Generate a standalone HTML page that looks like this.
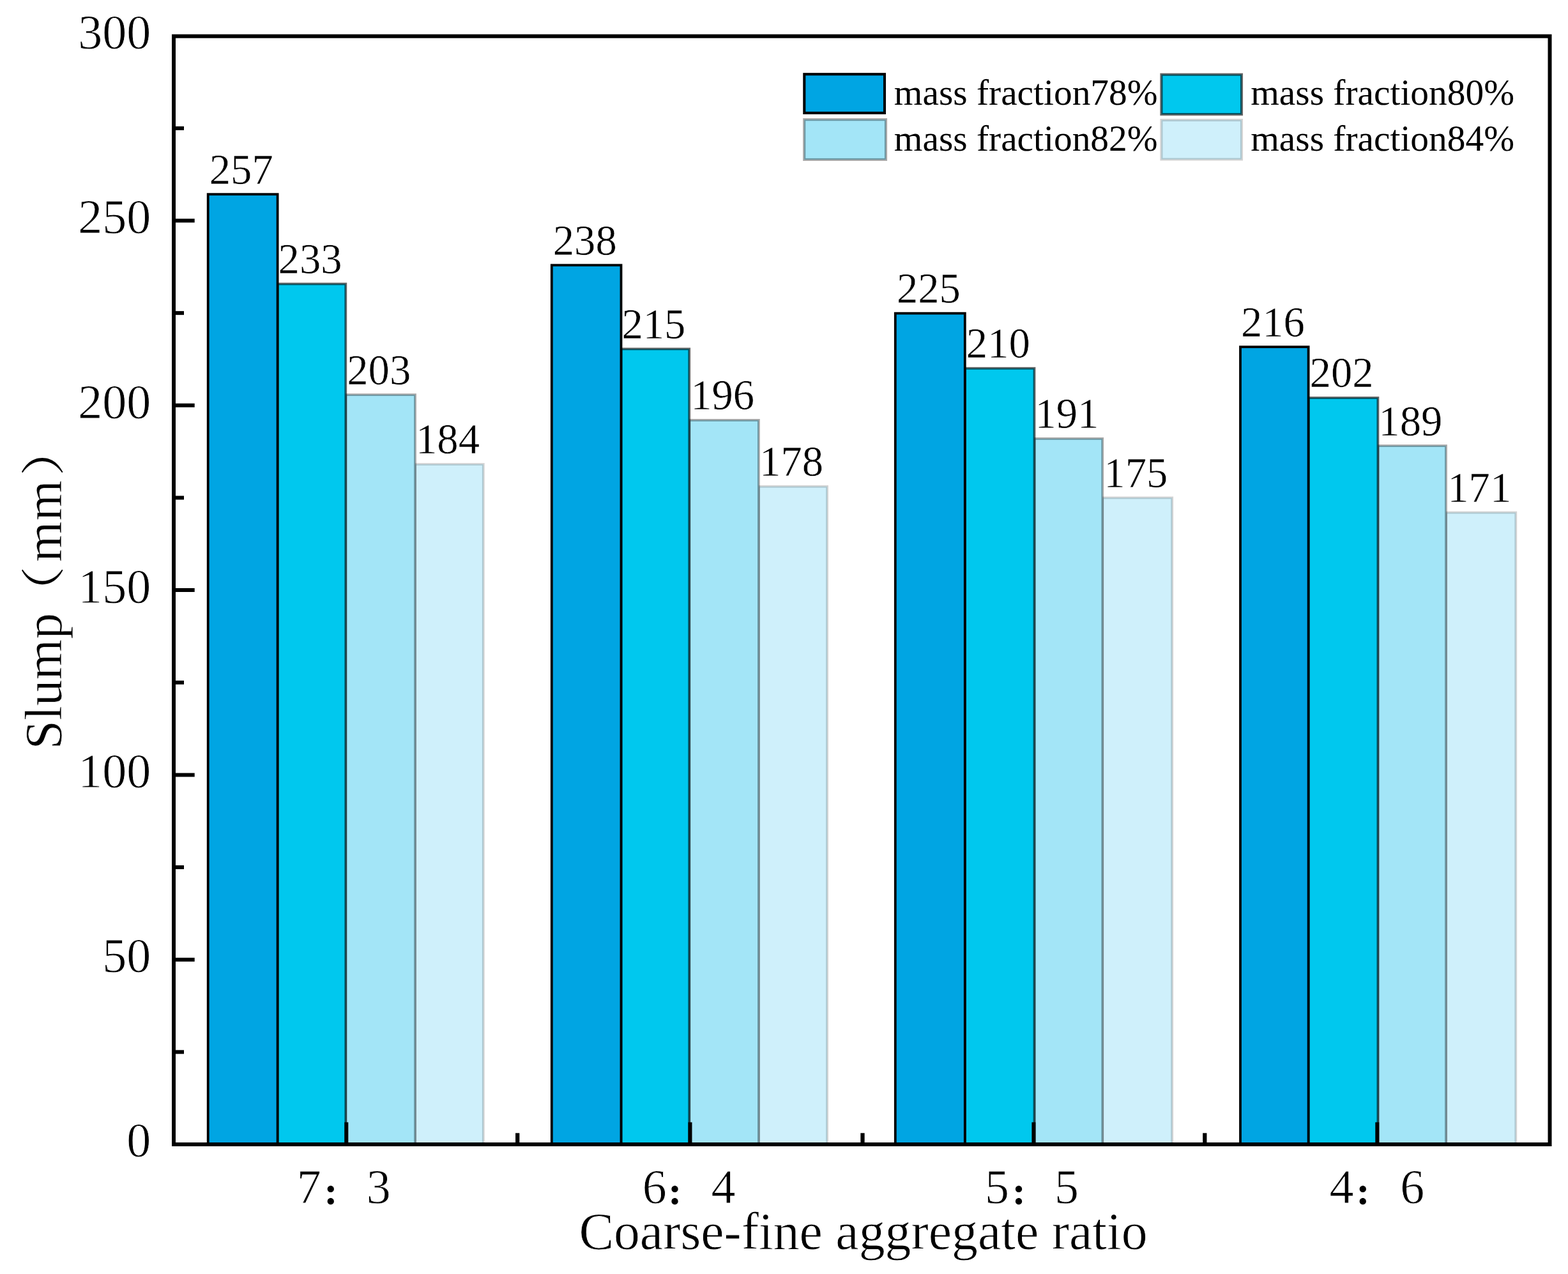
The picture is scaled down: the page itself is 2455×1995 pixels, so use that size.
<!DOCTYPE html>
<html lang="en"><head><meta charset="utf-8"><title>Slump vs coarse-fine aggregate ratio</title>
<style>
html,body{margin:0;padding:0;background:#ffffff;}
body{width:2455px;height:1995px;}
svg{display:block;}
text{font-family:"Liberation Serif","Noto Serif CJK SC",serif;fill:#000;stroke:#ffffff;stroke-width:1px;paint-order:fill stroke;stroke-linejoin:round;}
.tk{font-size:76px;stroke-width:0.8px;}
.dl{font-size:66.7px;stroke-width:0.5px;}
.lg{font-size:57.4px;stroke:none;}
.ti{font-size:81.8px;stroke-width:0.8px;}
.pj{font-family:"Liberation Serif","Noto Serif CJK SC",serif;font-size:82px;stroke:none;}
.cj{font-family:"Liberation Serif","Noto Serif CJK SC",serif;font-weight:900;font-size:50px;stroke:none;}
</style></head><body>
<svg width="2455" height="1995" viewBox="0 0 2455 1995">
<rect x="0" y="0" width="2455" height="1995" fill="#ffffff"/>
<g id="bars">
<rect x="650.00" y="726.98" width="106.80" height="1065.02" fill="#cff0fb" stroke="#000" stroke-opacity="0.17" stroke-width="3.8"/>
<rect x="1187.90" y="761.79" width="107.20" height="1030.21" fill="#cff0fb" stroke="#000" stroke-opacity="0.17" stroke-width="3.8"/>
<rect x="1726.20" y="779.45" width="109.00" height="1012.55" fill="#cff0fb" stroke="#000" stroke-opacity="0.17" stroke-width="3.8"/>
<rect x="2264.00" y="802.59" width="109.30" height="989.41" fill="#cff0fb" stroke="#000" stroke-opacity="0.17" stroke-width="3.8"/>
<rect x="541.30" y="618.14" width="108.70" height="1173.86" fill="#a3e5f7" stroke="#000" stroke-opacity="0.34" stroke-width="3.8"/>
<rect x="1079.20" y="657.94" width="108.70" height="1134.06" fill="#a3e5f7" stroke="#000" stroke-opacity="0.34" stroke-width="3.8"/>
<rect x="1619.50" y="686.87" width="106.70" height="1105.13" fill="#a3e5f7" stroke="#000" stroke-opacity="0.34" stroke-width="3.8"/>
<rect x="2157.40" y="698.05" width="106.60" height="1093.95" fill="#a3e5f7" stroke="#000" stroke-opacity="0.34" stroke-width="3.8"/>
<rect x="434.60" y="444.56" width="106.70" height="1347.44" fill="#00c8ee" stroke="#000" stroke-opacity="0.6" stroke-width="3.8"/>
<rect x="972.50" y="546.41" width="106.70" height="1245.59" fill="#00c8ee" stroke="#000" stroke-opacity="0.6" stroke-width="3.8"/>
<rect x="1510.80" y="576.74" width="108.70" height="1215.26" fill="#00c8ee" stroke="#000" stroke-opacity="0.6" stroke-width="3.8"/>
<rect x="2048.60" y="622.93" width="108.80" height="1169.07" fill="#00c8ee" stroke="#000" stroke-opacity="0.6" stroke-width="3.8"/>
<rect x="325.70" y="304.20" width="108.90" height="1487.80" fill="#00a5e3" stroke="#000" stroke-opacity="1" stroke-width="3.8"/>
<rect x="863.80" y="415.23" width="108.70" height="1376.77" fill="#00a5e3" stroke="#000" stroke-opacity="1" stroke-width="3.8"/>
<rect x="1401.80" y="490.65" width="109.00" height="1301.35" fill="#00a5e3" stroke="#000" stroke-opacity="1" stroke-width="3.8"/>
<rect x="1942.00" y="543.22" width="106.60" height="1248.78" fill="#00a5e3" stroke="#000" stroke-opacity="1" stroke-width="3.8"/>
</g>
<g id="labels" text-anchor="middle">
<text class="dl" x="377.75" y="287.70">257</text>
<text class="dl" x="915.75" y="398.73">238</text>
<text class="dl" x="1453.90" y="474.15">225</text>
<text class="dl" x="1992.90" y="526.72">216</text>
<text class="dl" x="485.55" y="428.06">233</text>
<text class="dl" x="1023.45" y="529.91">215</text>
<text class="dl" x="1562.75" y="560.24">210</text>
<text class="dl" x="2100.60" y="606.43">202</text>
<text class="dl" x="593.25" y="601.64">203</text>
<text class="dl" x="1131.15" y="641.44">196</text>
<text class="dl" x="1670.45" y="670.37">191</text>
<text class="dl" x="2208.30" y="681.55">189</text>
<text class="dl" x="701.00" y="710.48">184</text>
<text class="dl" x="1239.10" y="745.29">178</text>
<text class="dl" x="1778.30" y="762.95">175</text>
<text class="dl" x="2316.25" y="786.09">171</text>
</g>
<g id="ticks" stroke="#000" stroke-width="6" fill="none">
<line x1="272.00" y1="1647.35" x2="288.00" y2="1647.35"/>
<line x1="272.00" y1="1502.70" x2="304.70" y2="1502.70"/>
<line x1="272.00" y1="1358.05" x2="288.00" y2="1358.05"/>
<line x1="272.00" y1="1213.40" x2="304.70" y2="1213.40"/>
<line x1="272.00" y1="1068.75" x2="288.00" y2="1068.75"/>
<line x1="272.00" y1="924.10" x2="304.70" y2="924.10"/>
<line x1="272.00" y1="779.45" x2="288.00" y2="779.45"/>
<line x1="272.00" y1="634.80" x2="304.70" y2="634.80"/>
<line x1="272.00" y1="490.15" x2="288.00" y2="490.15"/>
<line x1="272.00" y1="345.50" x2="304.70" y2="345.50"/>
<line x1="272.00" y1="200.85" x2="288.00" y2="200.85"/>
<line x1="810.20" y1="1792.00" x2="810.20" y2="1774.30" stroke-width="6.3"/>
<line x1="1350.50" y1="1792.00" x2="1350.50" y2="1774.30" stroke-width="6.3"/>
<line x1="1886.30" y1="1792.00" x2="1886.30" y2="1774.30" stroke-width="6.3"/>
<line x1="542.30" y1="1792.00" x2="542.30" y2="1757.40"/>
<line x1="1080.50" y1="1792.00" x2="1080.50" y2="1757.40"/>
<line x1="1618.40" y1="1792.00" x2="1618.40" y2="1757.40"/>
<line x1="2156.30" y1="1792.00" x2="2156.30" y2="1757.40"/>
</g>
<rect x="272.00" y="56.70" width="2154.50" height="1735.30" fill="none" stroke="#000" stroke-width="6"/>
<g id="ylabels" text-anchor="end">
<text class="tk" x="236.20" y="1811.30">0</text>
<text class="tk" x="236.20" y="1522.10">50</text>
<text class="tk" x="236.20" y="1232.90">100</text>
<text class="tk" x="236.20" y="943.70">150</text>
<text class="tk" x="236.20" y="654.50">200</text>
<text class="tk" x="236.20" y="365.30">250</text>
<text class="tk" x="236.20" y="76.10">300</text>
</g>
<g id="xlabels">
<text class="tk" y="1884.00"><tspan x="464.71">7</tspan><tspan class="cj" x="503.61" dy="3.05">：</tspan><tspan x="573.81" dy="-3.05">3</tspan></text>
<text class="tk" y="1884.00"><tspan x="1005.84">6</tspan><tspan class="cj" x="1042.24" dy="3.05">：</tspan><tspan x="1113.44" dy="-3.05">4</tspan></text>
<text class="tk" y="1884.00"><tspan x="1541.96">5</tspan><tspan class="cj" x="1580.86" dy="3.05">：</tspan><tspan x="1651.06" dy="-3.05">5</tspan></text>
<text class="tk" y="1884.00"><tspan x="2081.59">4</tspan><tspan class="cj" x="2119.49" dy="3.05">：</tspan><tspan x="2192.19" dy="-3.05">6</tspan></text>
</g>
<text class="ti" text-anchor="middle" x="1351.50" y="1956.00">Coarse-fine aggregate ratio</text>
<g id="ytitle">
<text class="ti" transform="translate(95.50,1173.50) rotate(-90)">Slump</text>
<text class="ti pj" transform="translate(93.00,968.50) rotate(-90) scale(1,0.84)">（</text>
<text class="ti" transform="translate(95.50,880.00) rotate(-90)"><tspan x="0" y="0">m</tspan><tspan x="64.60" y="0">m</tspan></text>
<text class="ti pj" transform="translate(93.00,745.50) rotate(-90) scale(1,0.84)">）</text>
</g>
<g id="legend">
<rect x="1259.30" y="116.20" width="125.70" height="60.70" fill="#00a5e3" stroke="#000" stroke-opacity="1" stroke-width="4.1"/>
<text class="lg" x="1399.80" y="164.30">mass fraction78%</text>
<rect x="1818.40" y="116.70" width="125.60" height="62.30" fill="#00c8ee" stroke="#000" stroke-opacity="0.6" stroke-width="4.1"/>
<text class="lg" x="1958.20" y="164.30">mass fraction80%</text>
<rect x="1259.20" y="187.20" width="127.80" height="62.70" fill="#a3e5f7" stroke="#000" stroke-opacity="0.34" stroke-width="4.1"/>
<text class="lg" x="1399.80" y="235.50">mass fraction82%</text>
<rect x="1818.40" y="188.00" width="125.60" height="61.50" fill="#cff0fb" stroke="#000" stroke-opacity="0.17" stroke-width="4.1"/>
<text class="lg" x="1958.20" y="235.50">mass fraction84%</text>
</g>
</svg>
</body></html>
